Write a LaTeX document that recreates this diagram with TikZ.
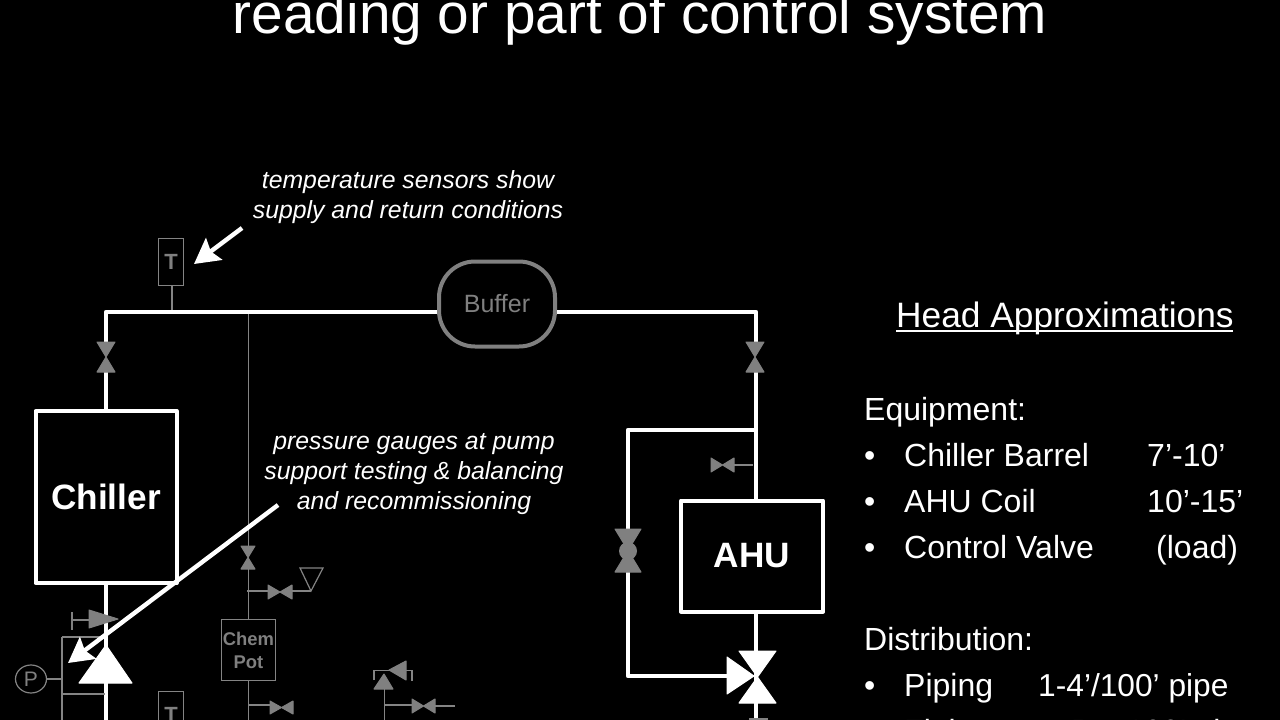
\documentclass[tikz,border=0pt]{standalone}
\usepackage{fontspec}
\setmainfont{Liberation Sans}
\usetikzlibrary{arrows.meta,shapes.geometric}
\definecolor{dim}{RGB}{128,128,128}
\definecolor{dimline}{RGB}{132,132,132}
\definecolor{wht}{RGB}{255,255,255}
\tikzset{
 pipe/.style={draw=wht,line width=4.6pt,line join=round},
 thin/.style={draw=dimline,line width=1.2pt},
 valvefill/.style={fill=dim,draw=dim,line width=1pt,line join=round},
 whitefill/.style={fill=wht,draw=wht,line width=1pt,line join=round},
 callout/.style={draw=wht,line width=4.4pt,-{Stealth[length=25pt,width=27pt,inset=4pt,fill=wht]}},
 note/.style={text=wht,align=center,font=\fontsize{24.8}{30}\selectfont\itshape,inner sep=0pt},
 big/.style={text=wht,font=\fontsize{35.2}{40}\selectfont\bfseries,inner sep=0pt},
 grayb/.style={text=dim,font=\fontsize{18.4}{22}\selectfont\bfseries,inner sep=0pt,align=center},
 list/.style={text=wht,font=\fontsize{32}{36}\selectfont,inner sep=0pt,anchor=base west},
}
\begin{document}
\begin{tikzpicture}[x=1pt,y=-1pt]
\useasboundingbox (0,0) rectangle (1280,720);
\fill[black] (0,0) rectangle (1280,720);
\clip (0,0) rectangle (1280,720);
% title
\node[text=wht,font=\fontsize{56.8}{60}\selectfont,inner sep=0pt,anchor=base] (title) at (640,34) {reading or part of control system};
% thin lines
\coordinate (tee1) at (172,312);
\coordinate (tee2) at (248.5,312);
\node[draw=dimline,line width=1.2pt,minimum width=25pt,minimum height=47pt,inner sep=0pt,text=dim,font=\fontsize{22}{24}\selectfont\bfseries] (T1) at (171,262) {\raisebox{-1pt}{T}};
\draw[thin] (T1.south -| tee1) -- (tee1);
\node[draw=dimline,line width=1.2pt,minimum width=54pt,minimum height=61pt,grayb] (chem) at (248.5,650) {Chem\\[1pt]Pot};
\draw[thin] (tee2) -- (chem.north);
\draw[thin] (chem.south) -- (248.5,720);
% boxes
\node[draw=wht,line width=4pt,line join=round,minimum width=141pt,minimum height=172pt,big,inner sep=0pt] (chiller) at (106,497) {\raisebox{-1pt}{Chiller}};
\node[draw=wht,line width=4pt,line join=round,minimum width=142pt,minimum height=111pt,big,inner sep=0pt] (ahu) at (752,556) {\raisebox{-1.5pt}{AHU}};
\node[draw=dim,rounded corners=36pt,line width=4pt,minimum width=116pt,minimum height=85pt,text=dim,font=\fontsize{25}{28}\selectfont,inner sep=0pt] (buffer) at (497,304) {Buffer};
% pipes
\draw[pipe] (buffer.west |- 0,312) -- (106,312) -- (106,342);
\draw[pipe] (106,372) -- (chiller.north -| 106,0);
\draw[pipe] (buffer.east |- 0,312) -- (756,312) -- (756,342);
\draw[pipe] (756,372) -- (ahu.north -| 756,0);
\draw[pipe] (chiller.south -| 106,0) -- (106,720);
\draw[pipe] (756,430) -- (628,430) -- (628,530);
\draw[pipe] (628,572) -- (628,676) -- (745,676);
\draw[pipe] (ahu.south -| 756,0) -- (756,720);
% gray valves
\path[valvefill] (97,342) -- (115,342) -- (97,372) -- (115,372) -- cycle;
\path[valvefill] (746,342) -- (764,342) -- (746,372) -- (764,372) -- cycle;
\path[valvefill] (241,546) -- (255,546) -- (241,569) -- (255,569) -- cycle;
% AHU bypass valves
\path[valvefill] (711,458) -- (711,472) -- (734,458) -- (734,472) -- cycle;
\draw[thin] (734,465) -- (753,465);
\path[valvefill] (615,529) -- (641,529) -- (615,572) -- (641,572) -- cycle;
\fill[dim] (628,551) circle (9pt);
% Chem pot side valves
\draw[thin] (247,591) -- (268,591);
\path[valvefill] (268,585) -- (268,599) -- (292,585) -- (292,599) -- cycle;
\draw[thin] (292,591) -- (311,591);
\draw[thin] (300,568) -- (323,568) -- (311,591) -- cycle;
\draw[thin] (248.5,705) -- (270,705);
\path[valvefill] (270,701) -- (270,714) -- (293,701) -- (293,714) -- cycle;
% right small assembly
\draw[thin] (374,680) -- (374,670.5) -- (412,670.5) -- (412,681);
\path[valvefill] (384,674) -- (374,689) -- (393,689) -- cycle;
\path[valvefill] (389,670) -- (406,661) -- (406,680) -- cycle;
\draw[thin] (384.5,689) -- (384.5,720);
\draw[thin] (384.5,705) -- (412,705);
\path[valvefill] (412,699) -- (412,713) -- (435,699) -- (435,713) -- cycle;
\draw[thin] (435,706) -- (455,706);
% pump area
\draw[thin] (62,637) -- (100,637);
\draw[thin] (62,637) -- (62,720);
\draw[thin] (62,694) -- (105,694);
\node[draw=dimline,line width=1.2pt,ellipse,minimum width=31pt,minimum height=28pt,inner sep=0pt,text=dim,font=\fontsize{21}{24}\selectfont] (P) at (31,679) {P};
\draw[thin] (P.east) -- (62,679);
\draw[draw=dim,line width=2.5pt] (72,612) -- (72,630);
\draw[draw=dim,line width=2.5pt] (72,620) -- (90,620);
\path[valvefill] (89,610) -- (118,619) -- (89,628) -- cycle;
\path[whitefill] (106,645) -- (132,683) -- (79,683) -- cycle;
% lower T
\node[draw=dimline,line width=1.2pt,minimum width=25pt,minimum height=47pt,inner sep=0pt,text=dim,font=\fontsize{22}{24}\selectfont\bfseries] (T2) at (171,715) {\raisebox{-1pt}{T}};
% control valve
\path[whitefill] (739,651) -- (776,651) -- (739,703) -- (776,703) -- cycle;
\path[whitefill] (727,657) -- (754,676) -- (727,694) -- cycle;
\fill[dim] (749,717.5) rectangle (768,720);
% callouts
\coordinate (c1s) at (242,228);
\coordinate (c1e) at (194,264);
\draw[callout] (c1s) -- (c1e);
\coordinate (c2s) at (278,505);
\coordinate (c2e) at (68,663);
\draw[callout] (c2s) -- (c2e);
% notes
\node[note] (n1) at (408,197) {temperature sensors show\\supply and return conditions};
\node[note] (n2) at (414,474) {pressure gauges at pump\\support testing \& balancing\\and recommissioning};
% heading
\node[text=wht,font=\fontsize{35.3}{38}\selectfont,inner sep=0pt,anchor=base west] (h) at (896,327) {Head Approximations};
\draw[wht,line width=2pt] (896,331) -- (1233,331);
% list
\node[list] (e0) at (864,420) {Equipment:};
\node[list] (e1b) at (864,466) {•};
\node[list] (e1) at (904,466) {Chiller Barrel};
\node[list] (e1v) at (1147,466) {7’-10’};
\node[list] (e2b) at (864,512) {•};
\node[list] (e2) at (904,512) {AHU Coil};
\node[list] (e2v) at (1147,512) {10’-15’};
\node[list] (e3b) at (864,558) {•};
\node[list] (e3) at (904,558) {Control Valve};
\node[list] (e3v) at (1156,558) {(load)};
\node[list] (d0) at (864,650) {Distribution:};
\node[list] (d1b) at (864,696) {•};
\node[list] (d1) at (904,696) {Piping};
\node[list,font=\fontsize{31.7}{36}\selectfont] (d1v) at (1038,696) {1-4’/100’ pipe};
\node[list] (d2b) at (864,742) {•};
\node[list] (d2) at (904,742) {Fittings};
\node[list] (d2v) at (1071,742) {P x 100’ pipe};
\end{tikzpicture}
\end{document}
